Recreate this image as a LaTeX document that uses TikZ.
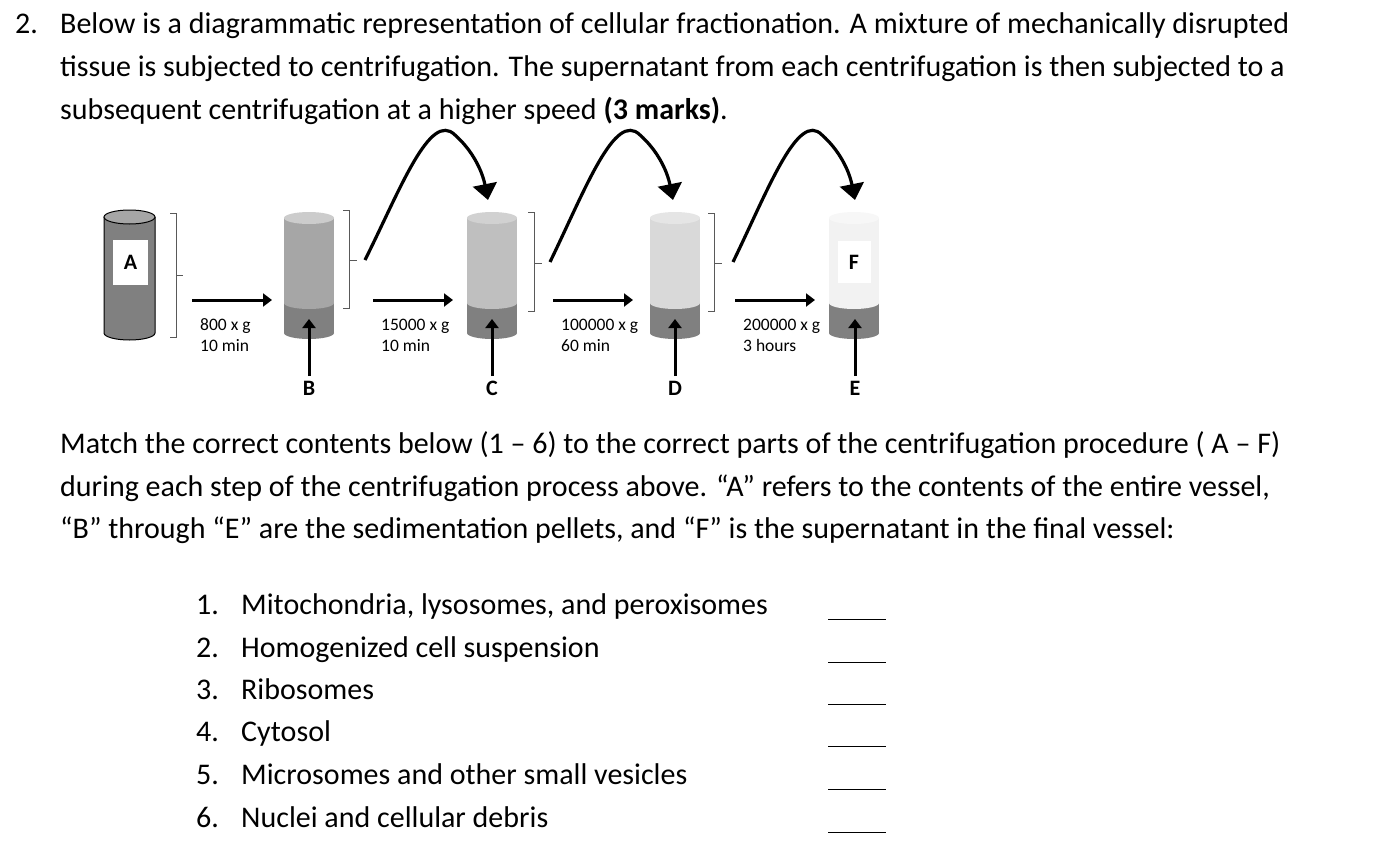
\documentclass[tikz,border=0pt]{standalone}
\usepackage{fontspec}
\setmainfont{Carlito}
\usetikzlibrary{arrows.meta}
\begin{document}
\begin{tikzpicture}[x=1pt,y=-1pt,
  big/.style={anchor=base west,inner sep=0,font=\fontsize{30}{34}\selectfont},
  small/.style={anchor=base west,inner sep=0,font=\fontsize{17.5}{20}\selectfont},
  lab/.style={inner sep=0,font=\fontsize{22}{24}\selectfont\bfseries},
  arr/.style={line width=3pt,-{Triangle[length=9pt,width=13pt]}},
  curv/.style={line width=3.2pt,-{Triangle[length=16pt,width=24pt]}},
  brk/.style={line width=0.6pt,gray!70!black}]
\useasboundingbox (0,0) rectangle (1384,854);
% text
\node[big] (n2) at (15,33) {2.};
\node[big] (t1) at (60,33) {Below is a diagrammatic representation of cellular fractionation. A mixture of mechanically disrupted};
\node[big] (t2) at (60,76) {tissue is subjected to centrifugation. The supernatant from each centrifugation is then subjected to a};
\node[big] (t3) at (60,119) {subsequent centrifugation at a higher speed \textbf{(3 marks)}.};
\node[big] (m1) at (60,453) {Match the correct contents below (1 -- 6) to the correct parts of the centrifugation procedure ( A -- F)};
\node[big] (m2) at (60,496) {during each step of the centrifugation process above. “A” refers to the contents of the entire vessel,};
\node[big] (m3) at (60,538) {“B” through “E” are the sedimentation pellets, and “F” is the supernatant in the final vessel:};
\foreach \i/\t/\y in {1/{Mitochondria, lysosomes, and peroxisomes}/614,2/{Homogenized cell suspension}/657,3/{Ribosomes}/699,4/{Cytosol}/741,5/{Microsomes and other small vesicles}/784,6/{Nuclei and cellular debris}/827}{
  \node[big] (num\i) at (196,\y) {\i.};
  \node[big] (it\i) at (241,\y) {\t};
  \draw[line width=0.8pt] (828,\y+5) -- (886,\y+5);
}
% tube A
\fill[black!50] (104,217) -- (104,333) arc[start angle=180,end angle=0,x radius=25.5,y radius=7] -- (155,217) -- cycle;
\draw[line width=1pt] (104,217) -- (104,333) arc[start angle=180,end angle=0,x radius=25.5,y radius=7] -- (155,217);
\draw[line width=1pt,fill=black!35] (129.5,217) ellipse[x radius=25.5,y radius=7];
\node[lab,fill=white,minimum width=35pt,minimum height=45pt] (A) at (130.5,262.5) {A};
% generic tubes
\foreach \x/\c/\tc in {284/35/20,467/25/18,650/15/10,829/5/3}{
  \fill[black!50] (\x,303) rectangle (\x+50,333);
  \fill[black!50] (\x+25,333) ellipse[x radius=25,y radius=6];
  \fill[black!\c] (\x,218) rectangle (\x+50,303);
  \fill[black!\c] (\x+25,303) ellipse[x radius=25,y radius=6];
  \fill[black!\tc] (\x+25,218) ellipse[x radius=25,y radius=6];
}
\node[lab,fill=white,minimum width=33pt,minimum height=42pt] (F) at (854,262) {F};
% brackets
\draw[brk] (170,213) -- (176,213) -- (176,275) -- (183,275) (176,275) -- (176,337) -- (170,337);
\foreach \x/\a/\b/\m in {343/210/308/260,528/212/311/263,708/213/311/263}{
  \draw[brk] (\x,\a) -- (\x+6,\a) -- (\x+6,\b) -- (\x,\b) (\x+6,\m) -- (\x+14,\m);
}
\coordinate (s1) at (365,260); \coordinate (s2) at (550,262); \coordinate (s3) at (733,262);
\coordinate (e1) at (488,200); \coordinate (e2) at (673,200); \coordinate (e3) at (855,200);
\draw[curv] (s1) .. controls (400,190) and (430,110) .. (455,135) .. controls (472,150) and (482,170) .. (e1);
\draw[curv] (s2) .. controls (585,190) and (615,110) .. (640,135) .. controls (657,150) and (667,170) .. (e2);
\draw[curv] (s3) .. controls (768,190) and (798,110) .. (822,135) .. controls (839,150) and (849,170) .. (e3);
% horizontal arrows + labels
\foreach \x/\g/\t/\i in {192/800 x g/10 min/1,373/15000 x g/10 min/2,553/100000 x g/60 min/3,735/200000 x g/3 hours/4}{
  \coordinate (h\i a) at (\x,300); \coordinate (h\i b) at (\x+80,300);
  \draw[arr] (h\i a) -- (h\i b);
  \node[small] (g\i) at (\x+8,330) {\g};
  \node[small] (tm\i) at (\x+8,351) {\t};
}
% pellet arrows
\foreach \x/\l in {309/B,492/C,675/D,855/E}{
  \node[lab] (L\l) at (\x,388) {\l};
  \coordinate (p\l) at (\x,319);
  \draw[arr] (\x,376) -- (p\l);
}
\end{tikzpicture}
\end{document}
